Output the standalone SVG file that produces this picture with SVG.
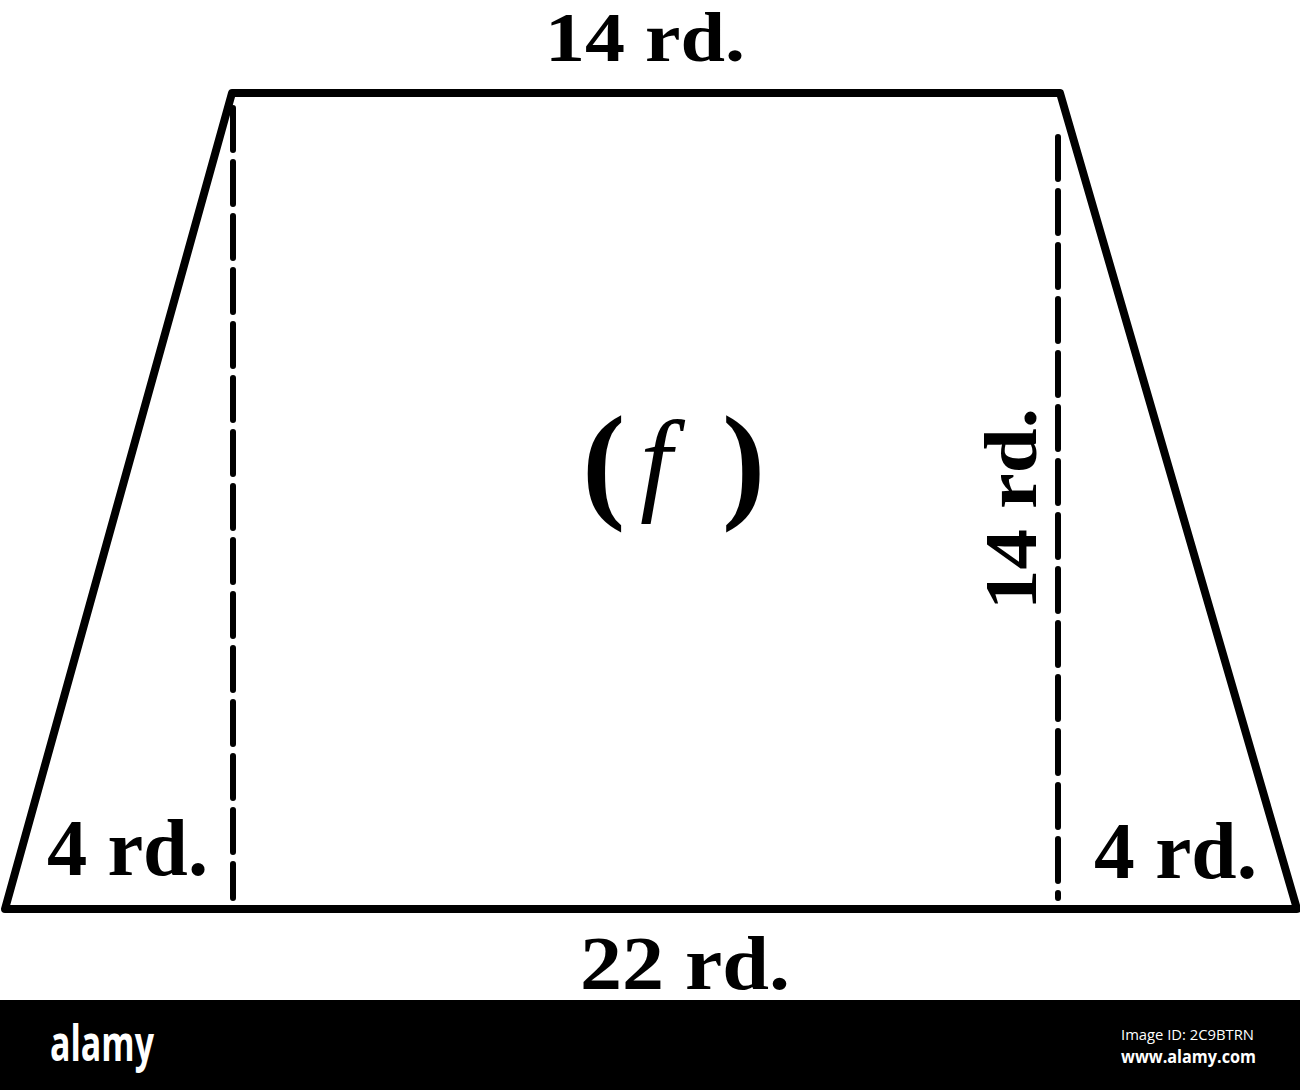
<svg xmlns="http://www.w3.org/2000/svg" width="1300" height="1090" viewBox="0 0 1300 1090">
<style>
.lbl{font-family:"Liberation Serif","DejaVu Serif",serif;font-weight:bold;fill:#000}
.it{font-family:"Liberation Serif","DejaVu Serif",serif;font-style:italic;fill:#000}
.edge{fill:none;stroke:#000;stroke-width:8;stroke-linejoin:round;stroke-linecap:round}
.dash{stroke:#000;stroke-width:6;stroke-dasharray:42 12;stroke-linecap:round}
</style>
<rect width="1300" height="1090" fill="#fff"/>
<g id="trapezoid">
<polygon class="edge" points="232,93 1060,93 1297,909 5,909"/>
</g>
<g id="connectors">
<line class="dash" x1="233" y1="108" x2="233" y2="898"/>
<line class="dash" x1="1058" y1="137" x2="1058" y2="898"/>
</g>
<g id="label-top"><text class="lbl" x="545" y="61" font-size="70" textLength="200" lengthAdjust="spacingAndGlyphs">14 rd.</text></g>
<g id="label-bottom"><text class="lbl" x="580" y="989" font-size="76" textLength="210" lengthAdjust="spacingAndGlyphs">22 rd.</text></g>
<g id="label-left"><text class="lbl" x="47" y="875" font-size="80" textLength="161" lengthAdjust="spacingAndGlyphs">4 rd.</text></g>
<g id="label-right"><text class="lbl" x="1094" y="878" font-size="80" textLength="163" lengthAdjust="spacingAndGlyphs">4 rd.</text></g>
<g id="label-height"><text class="lbl" transform="translate(1036,610) rotate(-90)" x="0" y="0" font-size="74" textLength="202" lengthAdjust="spacingAndGlyphs">14 rd.</text></g>
<g id="label-f">
<text class="lbl" x="582" y="505" font-size="130">(</text>
<text class="it" x="640" y="500" font-size="115">f</text>
<text class="lbl" x="722" y="505" font-size="130">)</text>
</g>
<g id="watermark">
<rect x="0" y="1000" width="1300" height="90" fill="#000"/>
<text x="50" y="1061" font-family="'Open Sans','DejaVu Sans',sans-serif" font-weight="bold" font-size="50" fill="#fff" textLength="104" lengthAdjust="spacingAndGlyphs">alamy</text>
<text x="1121" y="1040" font-family="'Open Sans','DejaVu Sans',sans-serif" font-size="15" fill="#fff" textLength="133" lengthAdjust="spacingAndGlyphs">Image ID: 2C9BTRN</text>
<text x="1121" y="1063" font-family="'Open Sans','DejaVu Sans',sans-serif" font-weight="bold" font-size="17" fill="#fff" textLength="135" lengthAdjust="spacingAndGlyphs">www.alamy.com</text>
</g>
</svg>
